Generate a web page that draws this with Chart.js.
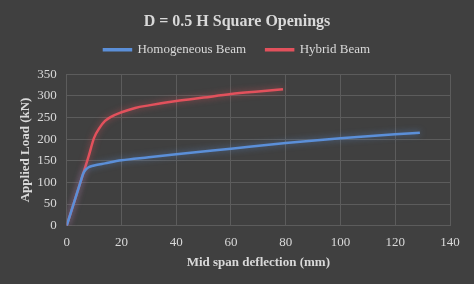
<!DOCTYPE html>
<html>
<head>
<meta charset="utf-8">
<script src="https://cdn.jsdelivr.net/npm/chart.js@4/dist/chart.umd.min.js"></script>
<style>
html,body{margin:0;padding:0;background:#404040;}
#wrap{width:474px;height:284px;position:relative;}
</style>
</head>
<body>
<div id="wrap"><canvas id="c" width="474" height="284"></canvas></div>
<script>
const seriesNames = ["Homogeneous Beam", "Hybrid Beam"];
const homogeneousX = [0, 5, 6, 7, 8, 10, 14, 20, 30, 40, 60, 80, 100, 120, 129];
const homogeneousY = [0, 100, 120, 130, 135, 139, 144, 151, 158, 165, 178, 191, 202, 211, 215];
const hybridX = [0, 5, 8, 10, 12, 14, 16, 20, 25, 30, 40, 50, 60, 70, 79];
const hybridY = [0, 100, 160, 203, 226, 242, 251, 262, 272, 278, 288, 296, 304, 310, 315];
const xTicks = [0, 20, 40, 60, 80, 100, 120, 140];
const yTicks = [0, 50, 100, 150, 200, 250, 300, 350];

const txt = '#d9d9d9';
const grid = '#5c5c5c';
const serif = "'Liberation Serif', 'DejaVu Serif', serif";
const colors = ['#5b8fd8', '#e2515c'];

function pts(xs, ys) { return xs.map((x, i) => ({x: x, y: ys[i]})); }

const glow = {
  id: 'glow',
  beforeDatasetDraw(chart, args) {
    const ctx = chart.ctx;
    ctx.save();
    ctx.shadowColor = args.index === 0 ? 'rgba(91,143,216,0.6)' : 'rgba(226,81,92,0.6)';
    ctx.shadowBlur = 6;
  },
  afterDatasetDraw(chart) { chart.ctx.restore(); }
};

const spacer = {
  id: 'spacer',
  beforeInit(chart) {
    const box = {
      position: 'top', weight: 1, fullSize: true, width: 0, height: 8,
      options: {},
      isHorizontal() { return true; },
      update(maxWidth) { this.width = maxWidth; this.height = 8; },
      draw() {}
    };
    Chart.layouts.addBox(chart, box);
  }
};

new Chart(document.getElementById('c'), {
  type: 'scatter',
  data: {
    datasets: [
      {label: seriesNames[0], data: pts(homogeneousX, homogeneousY), showLine: true,
       borderColor: colors[0], backgroundColor: colors[0], borderWidth: 2.5, pointRadius: 0,
       cubicInterpolationMode: 'monotone'},
      {label: seriesNames[1], data: pts(hybridX, hybridY), showLine: true,
       borderColor: colors[1], backgroundColor: colors[1], borderWidth: 2.5, pointRadius: 0,
       cubicInterpolationMode: 'monotone'}
    ]
  },
  options: {
    responsive: false,
    animation: false,
    devicePixelRatio: 1,
    layout: {padding: {left: 24, right: 24, top: 0, bottom: 14}},
    plugins: {
      title: {display: true, text: 'D = 0.5 H Square Openings', color: txt,
        font: {family: serif, size: 16, weight: 'bold'}, padding: {top: 12, bottom: -8}},
      legend: {display: true, position: 'top',
        labels: {color: txt, font: {family: serif, size: 13}, boxWidth: 27, boxHeight: 1,
          padding: 20}},
      tooltip: {enabled: false}
    },
    scales: {
      x: {type: 'linear', min: 0, max: 140,
        afterBuildTicks(s) { s.ticks = xTicks.map(v => ({value: v})); },
        afterFit(s) { s.height = 44.3; },
        grid: {color: grid, lineWidth: 1, drawTicks: false},
        border: {color: grid},
        ticks: {color: txt, font: {family: serif, size: 13}, padding: 9},
        title: {display: true, text: 'Mid span deflection (mm)', color: txt,
          font: {family: serif, size: 13, weight: 'bold'}, padding: {top: 0, bottom: 0}}
      },
      y: {type: 'linear', min: 0, max: 350,
        afterBuildTicks(s) { s.ticks = yTicks.map(v => ({value: v})); },
        afterFit(s) { s.width = 42.7; },
        grid: {color: grid, lineWidth: 1, drawTicks: false},
        border: {color: grid},
        ticks: {color: txt, font: {family: serif, size: 13}, padding: 10},
        title: {display: true, text: 'Applied Load (kN)', color: txt,
          font: {family: serif, size: 13, weight: 'bold'}, padding: {top: -6, bottom: 0}}
      }
    }
  },
  plugins: [glow, spacer]
});
</script>
</body>
</html>
